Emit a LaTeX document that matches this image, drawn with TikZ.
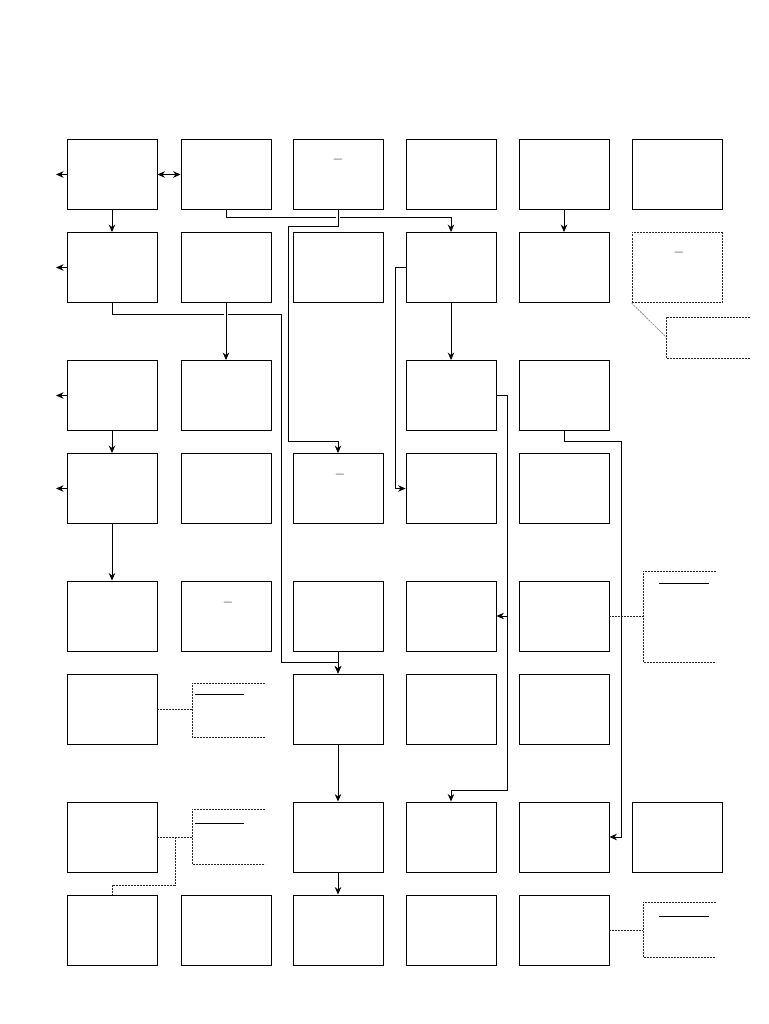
\documentclass[tikz,border=0pt]{standalone}
\usepackage{amsmath,amssymb}
\usepackage{xcolor}
\usepackage{tikz}
\usetikzlibrary{shapes,arrows.meta}
\tikzset{blk/.style={rectangle,draw,line width=0.9pt,minimum width=90pt,minimum height=70pt,inner sep=0pt}}
\tikzset{note/.style={line width=0.9pt,dash pattern=on 2pt off 1pt,black!85}}
\tikzset{bridge/.style={preaction={draw,-,white,line width=4pt,shorten <=3pt,shorten >=3pt}}}

\begin{document}
\begin{tikzpicture}[x=1pt,y=-1pt,>={Stealth[length=7.5pt,width=6.5pt]},line width=0.9pt]
    \useasboundingbox (0,0) rectangle (768,1024);

    \node[blk] (a1) at (112,174.5) {};
    \node[blk] (a2) at (226,174.5) {};
    \node[blk] (a3) at (338,174.5) {};
    \node[blk] (a4) at (451,174.5) {};
    \node[blk] (a5) at (564,174.5) {};
    \node[blk] (a6) at (677,174.5) {};
    \node[blk] (b1) at (112,267.5) {};
    \node[blk] (b2) at (226,267.5) {};
    \node[blk] (b3) at (338,267.5) {};
    \node[blk] (b4) at (451,267.5) {};
    \node[blk] (b5) at (564,267.5) {};
    \node[blk,note] (b6) at (677,267.5) {};
    \node[blk] (c1) at (112,395.5) {};
    \node[blk] (c2) at (226,395.5) {};
    \node[blk] (c4) at (451,395.5) {};
    \node[blk] (c5) at (564,395.5) {};
    \node[blk] (d1) at (112,488.5) {};
    \node[blk] (d2) at (226,488.5) {};
    \node[blk] (d3) at (338,488.5) {};
    \node[blk] (d4) at (451,488.5) {};
    \node[blk] (d5) at (564,488.5) {};
    \node[blk] (e1) at (112,616) {};
    \node[blk] (e2) at (226,616) {};
    \node[blk] (e3) at (338,616) {};
    \node[blk] (e4) at (451,616) {};
    \node[blk] (e5) at (564,616) {};
    \node[blk] (f1) at (112,709) {};
    \node[blk] (f3) at (338,709) {};
    \node[blk] (f4) at (451,709) {};
    \node[blk] (f5) at (564,709) {};
    \node[blk] (g1) at (112,837) {};
    \node[blk] (g3) at (338,837) {};
    \node[blk] (g4) at (451,837) {};
    \node[blk] (g5) at (564,837) {};
    \node[blk] (g6) at (677,837) {};
    \node[blk] (h1) at (112,930) {};
    \node[blk] (h2) at (226,930) {};
    \node[blk] (h3) at (338,930) {};
    \node[blk] (h4) at (451,930) {};
    \node[blk] (h5) at (564,930) {};

    % small marks in some boxes
    \node[font=\Large\bfseries] (ta3) at (338,161) {--};
    \node[font=\Large\bfseries] (tb6) at (679,254) {--};
    \node[font=\Large\bfseries] (td3) at (340,476) {--};
    \node[font=\Large\bfseries] (te2) at (228,604) {--};

    % free ends on the left
    \coordinate (oa) at (56,174.5);
    \coordinate (ob) at (56,267.5);
    \coordinate (oc) at (56,395.5);
    \coordinate (od) at (56,488.5);

    \draw [->] (a1.west) to (oa);
    \draw [->] (b1.west) to (ob);
    \draw [->] (c1.west) to (oc);
    \draw [->] (d1.west) to (od);
    \draw [<->] (a1.east) to (a2.west);
    \draw [->] (a1) to (b1);
    \draw [->] (a5) to (b5);
    \draw [->] (b4) to (c4);
    \draw [->] (c1) to (d1);
    \draw [->] (d1) to (e1);
    \draw [->] (e3) to (f3);
    \draw [->] (f3) to (g3);
    \draw [->] (g3) to (h3);

    \draw [->] (a2.south) -- ++(0,8) -| (b4.north);
    \draw [->,bridge] (a3.south) |- (288,226) -- (288,441) -| (d3.north);
    \draw [->] (b1.south) |- (281,314) -- (281,662) -| (f3.north);
    \draw [->,bridge] (b2) to (c2);
    \draw [->] (b4.west) -- (395,267.5) |- (d4.west);
    \draw [->] (c4.east) -| (507,790) -| (g4.north);
    \coordinate (je) at (507,616);
    \draw [->] (je) to (e4.east);
    \draw [->] (c5.south) |- (621,441) |- (g5.east);

    % callouts
    \coordinate (kb) at (666,337);
    \draw [note,black!45,line width=0.8pt] (b6.south west) to (kb);
    \draw [note] (750,317) -- (666,317) -- (666,358) -- (750,358);

    \coordinate (ke) at (643,616);
    \draw [note] (e5.east) to (ke);
    \draw [note] (716,571) -| (643,662) -- (716,662);
    \draw (659,583) -- (709,583);

    \coordinate (kf) at (192,709);
    \draw [note] (f1.east) to (kf);
    \draw [note] (265,683) -| (192,737) -- (265,737);
    \draw (195,694) -- (244,694);

    \coordinate (kg) at (192,837);
    \coordinate (kg2) at (175,837);
    \draw [note] (g1.east) to (kg);
    \draw [note] (265,809) -| (192,864) -- (265,864);
    \draw (195,823) -- (244,823);
    \draw [note] (kg2) |- (112,885) -- (h1.north);

    \coordinate (kh) at (643,930);
    \draw [note] (h5.east) to (kh);
    \draw [note] (716,902) -| (643,957) -- (716,957);
    \draw (659,916) -- (709,916);
\end{tikzpicture}
\end{document}
